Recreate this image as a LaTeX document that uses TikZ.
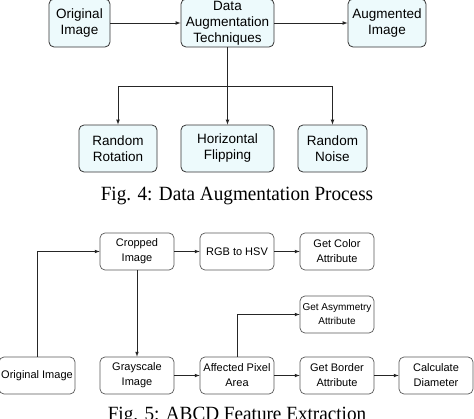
\documentclass[tikz,border=0pt]{standalone}
\usepackage{xcolor}
\usepackage{fontspec}
\setmainfont{Liberation Serif}
\newfontfamily\boxfont{Liberation Sans}
\usepackage{tikz}
\usetikzlibrary{positioning, shapes, calc, arrows}
\definecolor{paleblue}{rgb}{0.93, 0.98, 0.99}
\definecolor{edgegray}{rgb}{0.35, 0.35, 0.35}

\begin{document}
\begin{tikzpicture}[x=1pt, y=-1pt,
		topbox/.style={draw=black!80, fill=paleblue, rounded corners=5pt, line width=0.8pt, align=center, inner sep=0pt, font=\boxfont\fontsize{13.5}{16}\selectfont},
		lowbox/.style={draw=edgegray, fill=white, rounded corners=5pt, line width=0.7pt, align=center, inner sep=0pt, minimum width=74pt, minimum height=37pt, font=\boxfont\fontsize{11}{15}\selectfont},
		caption/.style={anchor=base, xscale=0.95, font=\fontsize{20.2}{22}\selectfont},
		arr/.style={-latex, line width=0.7pt, black!85}]
				\useasboundingbox (0,0) rectangle (474,418);
				%% Fig. 4
				\node[topbox, minimum width=61pt, minimum height=48pt] (orig) at (79.5,23) {Original\\Image};
				\node[topbox, minimum width=93pt, minimum height=48pt] (dat) at (227.5,23) {Data\\Augmentation\\Techniques};
				\node[topbox, minimum width=78pt, minimum height=48pt] (aug) at (387,23) {Augmented\\Image};
				\node[topbox, minimum width=78pt, minimum height=47pt] (rot) at (118,148.5) {Random\\Rotation};
				\node[topbox, minimum width=93pt, minimum height=47pt] (flip) at (227.5,148.5) {Horizontal\\Flipping};
				\node[topbox, minimum width=69pt, minimum height=47pt] (noise) at (332.5,148.5) {Random\\Noise};
				\coordinate (split) at (227.5,86);
				\draw [arr] (orig) -- (dat);
				\draw [arr] (dat) -- (aug);
				\draw [arr] (dat) -- (flip);
				\draw [arr] (split) -| (rot);
				\draw [arr] (split) -| (noise);
				\node[caption] (cap4) at (237,200) {Fig. 4: Data Augmentation Process};
				
				%% Fig. 5
				\node[lowbox, minimum width=76pt] (origb) at (37,375.5) {Original Image};
				\node[lowbox] (crop) at (137,251.5) {Cropped\\Image};
				\node[lowbox] (rgb) at (237,251.5) {RGB to HSV};
				\node[lowbox] (color) at (337,251.5) {Get Color\\Attribute};
				\node[lowbox, font=\boxfont\fontsize{10}{14}\selectfont] (asym) at (337,314.5) {Get Asymmetry\\Attribute};
				\node[lowbox] (gray) at (137,375.5) {Grayscale\\Image};
				\node[lowbox] (area) at (237,375.5) {Affected Pixel\\Area};
				\node[lowbox] (border) at (337,375.5) {Get Border\\Attribute};
				\node[lowbox] (diam) at (436,375.5) {Calculate\\Diameter};
				\draw [arr] (origb.north) |- (crop.west);
				\draw [arr] (crop) -- (rgb);
				\draw [arr] (rgb) -- (color);
				\draw [arr] (crop) -- (gray);
				\draw [arr] (gray) -- (area);
				\draw [arr] (area.north) |- (asym.west);
				\draw [arr] (area) -- (border);
				\draw [arr] (border) -- (diam);
				\node[caption] (cap5) at (237,420) {Fig. 5: ABCD Feature Extraction};
\end{tikzpicture}
\end{document}
